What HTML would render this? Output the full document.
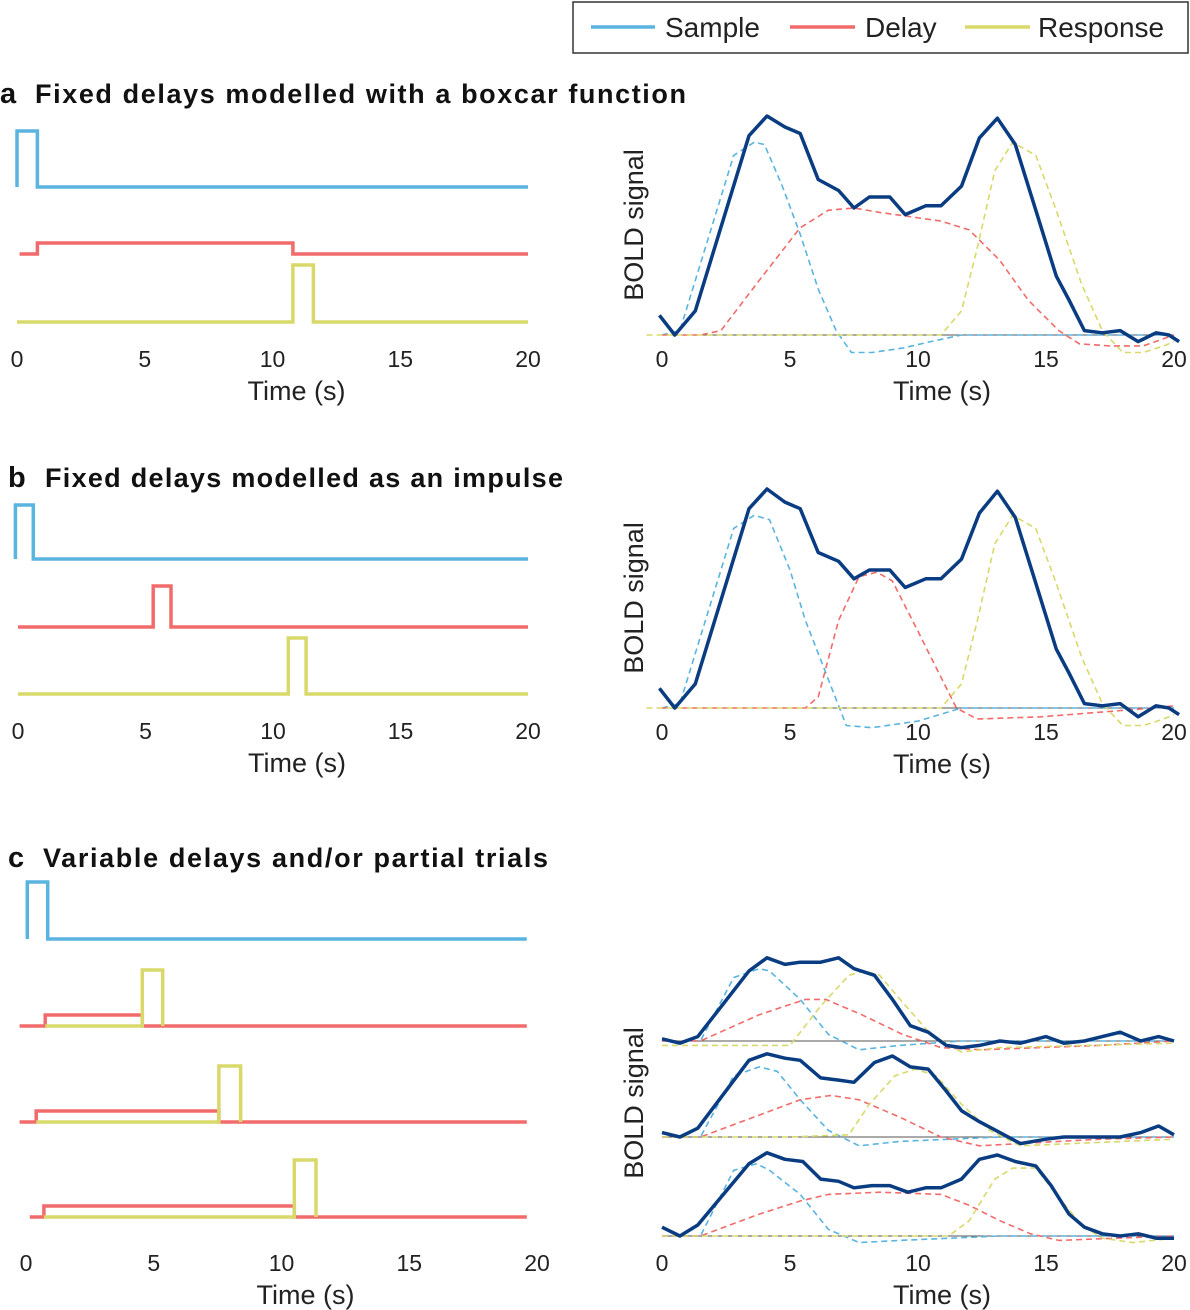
<!DOCTYPE html>
<html><head><meta charset="utf-8"><style>
html,body{margin:0;padding:0;background:#fff;}
svg{display:block;font-family:"Liberation Sans","DejaVu Sans",sans-serif;}
</style></head><body>
<svg id="fig" width="1190" height="1310" viewBox="0 0 1190 1310">
<g>
<rect x="573" y="2" width="615" height="51" fill="#fff" stroke="#333" stroke-width="1.5"/>
<line x1="591" y1="27" x2="655" y2="27" stroke="#5ab4e0" stroke-width="3.5"/>
<text x="665" y="37" font-size="28" fill="#222">Sample</text>
<line x1="790" y1="27" x2="855" y2="27" stroke="#f26b6b" stroke-width="3.5"/>
<text x="865" y="37" font-size="28" fill="#222">Delay</text>
<line x1="965" y1="27" x2="1030" y2="27" stroke="#d9d86a" stroke-width="3.5"/>
<text x="1038" y="37" font-size="28" fill="#222">Response</text>
</g>
<text x="0" y="103" font-size="29" font-weight="bold" fill="#111">a</text>
<text x="35" y="103" font-size="27" font-weight="bold" fill="#111" textLength="651">Fixed delays modelled with a boxcar function</text>
<text x="8" y="487" font-size="29" font-weight="bold" fill="#111">b</text>
<text x="45" y="487" font-size="27" font-weight="bold" fill="#111" textLength="518">Fixed delays modelled as an impulse</text>
<text x="8" y="867" font-size="29" font-weight="bold" fill="#111">c</text>
<text x="43" y="867" font-size="27" font-weight="bold" fill="#111" textLength="505">Variable delays and/or partial trials</text>
</svg>
<script>
const BLUE='#5ab4e0',RED='#f26b6b',YEL='#d9d86a',DARK='#0a3c82';
const ticks=[0,5,10,15,20];
const tickLabels=['0','5','10','15','20'];
// design rows: [t, height]
const aSample=[[0,0],[0,56],[0.8,56],[0.8,0],[20,0]];
const aDelay=[[0.1,0],[0.8,0],[0.8,11],[10.8,11],[10.8,0],[20,0]];
const aResp=[[0,0],[10.8,0],[10.8,57],[11.6,57],[11.6,0],[20,0]];
const bSample=[[-0.1,0],[-0.1,54],[0.6,54],[0.6,0],[20,0]];
const bDelay=[[0,0],[5.3,0],[5.3,41],[6.0,41],[6.0,0],[20,0]];
const bResp=[[0,0],[10.6,0],[10.6,56],[11.3,56],[11.3,0],[20,0]];
const cSample=[[0.05,0],[0.05,57],[0.85,57],[0.85,0],[19.6,0]];
const c1Delay=[[-0.25,0],[0.75,0],[0.75,11],[4.55,11],[4.55,0],[19.6,0]];
const c1Resp=[[0.75,0],[4.55,0],[4.55,56],[5.35,56],[5.35,0]];
const c2Delay=[[-0.25,0],[0.4,0],[0.4,11],[7.55,11],[7.55,0],[19.6,0]];
const c2Resp=[[0.4,0],[7.55,0],[7.55,56],[8.4,56],[8.4,0]];
const c3Delay=[[0.15,0],[0.7,0],[0.7,11],[10.5,11],[10.5,0],[19.6,0]];
const c3Resp=[[0.7,0],[10.5,0],[10.5,57],[11.35,57],[11.35,0]];
// BOLD data
const tA=[-0.1,0.5,1.3,3.4,4.1,4.8,5.4,6.1,6.9,7.5,8.1,8.9,9.5,10.3,10.9,11.7,12.4,13.1,13.8,14.6,15.4,15.9,16.5,17.2,17.9,18.6,19.3,19.8,20.2];
const boldA=[0.09,0,0.11,0.91,1.0,0.95,0.92,0.71,0.66,0.58,0.63,0.63,0.55,0.59,0.59,0.68,0.90,0.99,0.87,0.57,0.27,0.16,0.02,0.01,0.02,-0.03,0.01,0,-0.03];
const boldB=[0.09,0,0.11,0.91,1.0,0.94,0.91,0.71,0.67,0.59,0.63,0.63,0.55,0.59,0.59,0.68,0.89,0.99,0.87,0.57,0.27,0.16,0.02,0.01,0.02,-0.04,0.01,0,-0.03];
const aBlueD=[[0,0],[0.7,0.02],[2.8,0.82],[3.6,0.88],[4.0,0.87],[4.7,0.68],[5.4,0.46],[6.1,0.21],[6.8,0.02],[7.4,-0.08],[8.2,-0.08],[9.4,-0.06],[10.5,-0.03],[11.7,0],[20,0]];
const aRedD=[[0,0],[1.5,0],[2.3,0.02],[3.8,0.25],[5.4,0.49],[6.5,0.57],[7.5,0.58],[8.5,0.56],[9.7,0.54],[10.9,0.52],[12.0,0.48],[13.2,0.34],[14.3,0.16],[15.5,0.02],[16.3,-0.04],[17.5,-0.05],[18.8,-0.05],[20,0]];
const aYelD=[[-0.6,0],[10.9,0],[11.7,0.11],[12.3,0.39],[13.0,0.75],[13.7,0.88],[14.6,0.82],[15.4,0.57],[16.4,0.23],[17.2,0.02],[18.0,-0.08],[18.8,-0.08],[19.6,-0.05],[20,-0.03]];
const bBlueD=[[0,0],[0.7,0.02],[2.8,0.82],[3.6,0.88],[4.2,0.86],[5.0,0.63],[5.6,0.4],[6.2,0.22],[7.2,-0.08],[8.2,-0.09],[10,-0.06],[11.7,0],[20,0]];
const bRedD=[[0,0],[5.6,0],[6.1,0.05],[6.9,0.4],[7.7,0.6],[8.4,0.62],[9.0,0.58],[10.0,0.35],[11.5,0],[12.3,-0.05],[14.8,-0.04],[17.0,-0.02],[19.2,0],[20,0.01]];
const bYelD=aYelD;
const tC=[0,0.7,1.4,3.4,4.1,4.8,5.4,6.2,6.9,7.5,8.3,9.0,9.7,10.4,11.1,11.7,12.4,13.2,14.0,15.0,15.7,16.5,17.2,17.9,18.7,19.4,20.0];
const boldC1=[0.01,-0.01,0.02,0.32,0.38,0.35,0.36,0.36,0.38,0.33,0.30,0.19,0.07,0.04,-0.02,-0.03,-0.02,0,-0.01,0.02,-0.01,0,0.02,0.04,0,0.02,0];
const boldC2=[0.02,0,0.04,0.35,0.38,0.36,0.35,0.27,0.26,0.25,0.34,0.37,0.32,0.31,0.21,0.12,0.07,0.02,-0.03,-0.01,0,0,0,0,0.02,0.05,0.01];
const tC3=[0,0.7,1.4,3.4,4.1,4.8,5.5,6.2,6.9,7.5,8.2,8.9,9.6,10.3,10.9,11.7,12.4,13.1,13.8,14.6,15.2,15.9,16.5,17.2,17.9,18.6,19.3,20];
const boldC3=[0.04,0,0.05,0.33,0.38,0.35,0.34,0.26,0.25,0.22,0.23,0.23,0.2,0.22,0.22,0.26,0.35,0.37,0.34,0.32,0.23,0.1,0.04,0.01,0,0.01,-0.01,-0.01];
const c1BlueD=[[0,0],[1.5,0],[2.8,0.29],[3.8,0.33],[4.2,0.32],[5.4,0.19],[6.5,0.03],[7.7,-0.04],[9.3,-0.02],[11.7,0],[20,0]];
const c1RedD=[[0,0],[1.5,0],[3.8,0.12],[5.6,0.19],[6.4,0.19],[7.8,0.12],[9.4,0.03],[10.9,-0.03],[12.5,-0.04],[17.1,-0.02],[20,0]];
const c1YelD=[[0,-0.02],[5.0,-0.02],[6.2,0.16],[7.3,0.30],[7.9,0.32],[8.5,0.30],[9.3,0.19],[10.5,0.03],[11.7,-0.05],[13.2,-0.03],[20,-0.01]];
const c2BlueD=[[0,0],[1.5,0],[2.8,0.28],[3.8,0.32],[4.5,0.3],[5.4,0.17],[6.5,0.03],[7.7,-0.04],[9.3,-0.02],[13.2,0],[20,0]];
const c2RedD=[[0,0],[1.5,0],[3.8,0.1],[5.4,0.17],[6.6,0.19],[7.7,0.17],[9.3,0.09],[10.9,0],[12.4,-0.04],[17.1,-0.01],[20,0]];
const c2YelD=[[0,0],[5.0,0],[7.3,0.01],[8.1,0.15],[9.1,0.28],[9.9,0.31],[10.7,0.28],[11.7,0.15],[12.8,0.03],[14.0,-0.04],[20,-0.01]];
const c3BlueD=[[0,0],[1.5,0],[2.8,0.30],[3.7,0.33],[4.2,0.30],[5.4,0.19],[6.5,0.03],[7.7,-0.03],[9.3,-0.02],[13.2,0],[20,0]];
const c3RedD=[[0,0],[1.5,0],[3.8,0.1],[5.4,0.16],[6.5,0.19],[8.5,0.20],[10.9,0.19],[12.0,0.14],[13.2,0.07],[14.4,0.01],[15.5,-0.02],[20,0]];
const c3YelD=[[0,0],[11.2,0],[12.0,0.07],[13.0,0.26],[13.7,0.31],[14.6,0.31],[15.4,0.19],[16.4,0.05],[17.2,-0.01],[18.4,-0.03],[20,-0.01]];

const NS='http://www.w3.org/2000/svg';
const svg=document.getElementById('fig');
function mk(tag,attrs){const e=document.createElementNS(NS,tag);for(const k in attrs)e.setAttribute(k,attrs[k]);svg.appendChild(e);return e;}
function xs(x0,x1){return t=>x0+(x1-x0)*t/20;}
function stepRow(pts,xf,base,color,name){
  const d=pts.map((p,i)=>(i?'L':'M')+xf(p[0]).toFixed(1)+' '+(base-p[1]).toFixed(1)).join(' ');
  const e=mk('path',{d:d,fill:'none',stroke:color,'stroke-width':3.5,'stroke-linejoin':'miter'});
  
  
}
function axisLabels(xf,ty,lbly,name){
  ticks.forEach((t,i)=>{const e=mk('text',{x:xf(t),y:ty,'font-size':23,'text-anchor':'middle',fill:'#222'});e.textContent=tickLabels[i];
    
    });
  const l=mk('text',{x:xf(10)+24,y:lbly,'font-size':27,'text-anchor':'middle',fill:'#222'});l.textContent='Time (s)';
  
  
}
function yTitle(cy,name){
  const e=mk('text',{x:0,y:0,'font-size':27,'text-anchor':'middle',fill:'#222',transform:'translate(643,'+cy+') rotate(-90)'});e.textContent='BOLD signal';
  
  
}
const VS=219;
function curve(pts,xf,base,color,dash,w,name){
  const d=pts.map((p,i)=>(i?'L':'M')+xf(p[0]).toFixed(1)+' '+(base-p[1]*VS).toFixed(1)).join(' ');
  const a={d:d,fill:'none',stroke:color,'stroke-width':w,'stroke-linejoin':'round'};
  if(dash)a['stroke-dasharray']='6 4';
  const e=mk('path',a);
  
  
}
function zip(t,v){return t.map((x,i)=>[x,v[i]]);}
function baseLine(xf,base,name){
  const e=mk('line',{x1:xf(0),y1:base,x2:xf(20),y2:base,stroke:'#555','stroke-width':1});
  
  
}
// Panel a left
let xa=xs(17,528);
stepRow(aSample,xa,187,BLUE,'a-sample-row');
stepRow(aDelay,xa,254,RED,'a-delay-row');
stepRow(aResp,xa,322,YEL,'a-response-row');
axisLabels(xa,367,400,'a-design');
// Panel b left
let xb=xs(18,528);
stepRow(bSample,xb,559,BLUE,'b-sample-row');
stepRow(bDelay,xb,627,RED,'b-delay-row');
stepRow(bResp,xb,694,YEL,'b-response-row');
axisLabels(xb,739,772,'b-design');
// Panel c left
let xc=xs(26,537);
stepRow(cSample,xc,939,BLUE,'c-sample-row');
stepRow(c1Delay,xc,1026,RED,'c-trial1-delay');
stepRow(c1Resp,xc,1026,YEL,'c-trial1-response');
stepRow(c2Delay,xc,1122,RED,'c-trial2-delay');
stepRow(c2Resp,xc,1122,YEL,'c-trial2-response');
stepRow(c3Delay,xc,1217,RED,'c-trial3-delay');
stepRow(c3Resp,xc,1217,YEL,'c-trial3-response');
axisLabels(xc,1271,1304,'c-design');
// Right panels
let xr=xs(662,1174);
baseLine(xr,335,'a-bold-baseline');
curve(aBlueD,xr,335,BLUE,true,1.6,'a-sample-hrf');
curve(aRedD,xr,335,RED,true,1.6,'a-delay-hrf');
curve(aYelD,xr,335,YEL,true,1.6,'a-response-hrf');
curve(zip(tA,boldA),xr,335,DARK,false,3.5,'a-bold-line');
axisLabels(xr,367,400,'a-bold');
yTitle(225,'a-y-axis-title');
baseLine(xr,708,'b-bold-baseline');
curve(bBlueD,xr,708,BLUE,true,1.6,'b-sample-hrf');
curve(bRedD,xr,708,RED,true,1.6,'b-delay-hrf');
curve(bYelD,xr,708,YEL,true,1.6,'b-response-hrf');
curve(zip(tA,boldB),xr,708,DARK,false,3.5,'b-bold-line');
axisLabels(xr,740,773,'b-bold');
yTitle(598,'b-y-axis-title');
[[1041,c1BlueD,c1RedD,c1YelD,tC,boldC1],[1137,c2BlueD,c2RedD,c2YelD,tC,boldC2],[1236,c3BlueD,c3RedD,c3YelD,tC3,boldC3]].forEach((r,i)=>{
  baseLine(xr,r[0],'c-trial'+(i+1)+'-baseline');
  curve(r[1],xr,r[0],BLUE,true,1.6,'c-trial'+(i+1)+'-sample-hrf');
  curve(r[2],xr,r[0],RED,true,1.6,'c-trial'+(i+1)+'-delay-hrf');
  curve(r[3],xr,r[0],YEL,true,1.6,'c-trial'+(i+1)+'-response-hrf');
  curve(zip(r[4],r[5]),xr,r[0],DARK,false,3.5,'c-trial'+(i+1)+'-bold-line');
});
axisLabels(xr,1271,1304,'c-bold');
yTitle(1103,'c-y-axis-title');
</script>
</body></html>
